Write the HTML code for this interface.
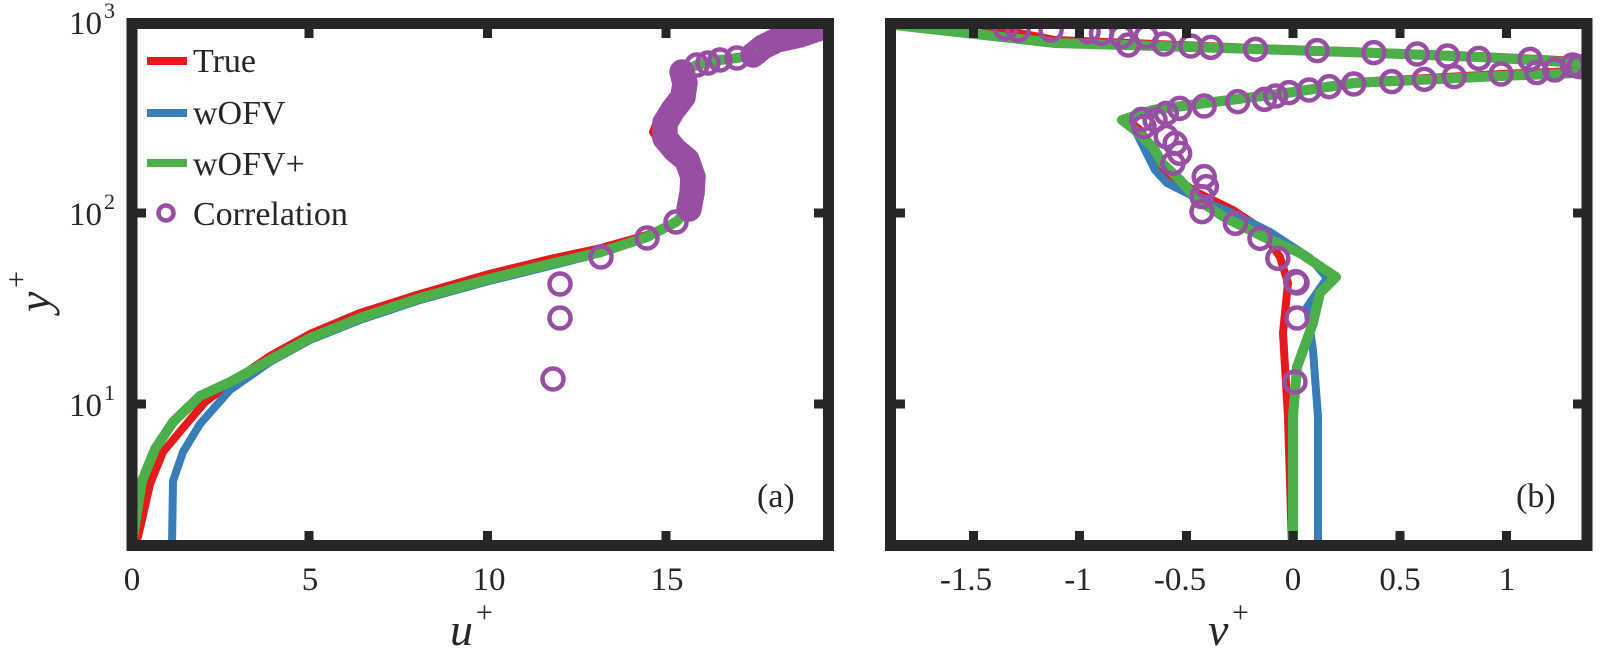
<!DOCTYPE html>
<html><head><meta charset="utf-8"><style>
html,body{margin:0;padding:0;background:#fff;}
svg{display:block;}
svg text{font-family:"Liberation Serif","DejaVu Serif",serif;fill:#262626;}
</style></head><body>
<svg id="s" width="1600" height="652" viewBox="0 0 1600 652" xmlns="http://www.w3.org/2000/svg" font-family="'Liberation Serif','DejaVu Serif',serif">
<defs>
<clipPath id="ca"><rect x="137" y="29" width="686" height="511"/></clipPath>
<clipPath id="cb"><rect x="896" y="29" width="686" height="511"/></clipPath>
</defs>
<g clip-path="url(#ca)" fill="none" stroke-linejoin="round" stroke-linecap="round">
<polyline stroke="#e41a1c" stroke-width="8" points="138,537 150,484 163,452 183,428 205,402 235,380 270,356 310,334 360,313 420,294 489,274 550,259 601,248 647,235 676,222 689,209 690,190 685,165 665,150 653,132 660,115 675,100 683,88 680,72 697,65 720,60 753,55 777,40 826,26"/>
<polyline stroke="#377eb8" stroke-width="8" points="172,545 173,481 183,452 200,424 230,390 270,362 310,340 360,320 420,300 489,281 550,266 601,253 647,238 676,222 689,209 692,193 693,177 687,160 675,150 665,138 665,123 673,110 683,97 685,83 680,72 697,65 720,60 737,58 753,55 763,47 777,40 800,35 826,26"/>
<polyline stroke="#4daf4a" stroke-width="10" points="133,537 142,481 155,449 173,422 200,396 230,382 270,360 310,338 360,318 420,298 489,279 550,264 601,252 647,237 676,222 689,209 692,193 693,177 687,160 675,150 665,138 665,123 673,110 683,97 685,83 680,72 697,65 720,60 737,58 753,55 763,47 777,40 800,35 826,26"/>
<g id="ma" stroke="#984ea3" stroke-width="4.5"></g>
</g>
<g clip-path="url(#cb)" fill="none" stroke-linejoin="round" stroke-linecap="round">
<polyline stroke="#e41a1c" stroke-width="8" points="943,18 1055,40 1255,48 1376,52 1479,56 1600,62 1600,70 1501,74 1354,82 1287,92 1206,102 1153,109 1125,118 1140,130 1153,150 1162,170 1198,193 1233,210 1260,228 1280,257 1288,283 1283,333 1288,417 1292,548"/>
<polyline stroke="#377eb8" stroke-width="8" points="885,24 1055,43 1255,49 1376,53 1479,57 1600,64 1600,72 1501,76 1354,83 1287,93 1206,103 1153,110 1122,120 1135,130 1145,150 1155,170 1167,183 1185,192 1200,200 1230,212 1270,232 1310,258 1327,278 1307,307 1313,350 1318,417 1318,548"/>
<polyline stroke="#4daf4a" stroke-width="10" points="885,24 1055,43 1255,49 1376,53 1479,57 1600,64 1600,72 1501,76 1354,83 1287,93 1206,103 1153,110 1122,120 1135,130 1153,147 1162,163 1180,180 1198,200 1224,217 1264,237 1300,253 1336,277 1320,293 1313,323 1297,367 1293,417 1293,548"/>
<g id="mb" stroke="#984ea3" stroke-width="4.5"></g>
</g>
<g fill="none" stroke="#262626" stroke-width="11">
<rect x="132" y="23.5" width="696.5" height="522"/>
<rect x="890.5" y="23.5" width="696.5" height="522"/>
</g>
<g fill="#262626">
<rect x="304.5" y="29" width="9" height="9"/><rect x="483" y="29" width="9" height="9"/><rect x="661.5" y="29" width="9" height="9"/>
<rect x="304.5" y="531" width="9" height="9"/><rect x="483" y="531" width="9" height="9"/><rect x="661.5" y="531" width="9" height="9"/>
<rect x="137" y="208.5" width="9" height="9"/><rect x="137" y="399.5" width="9" height="9"/>
<rect x="814" y="208.5" width="9" height="9"/><rect x="814" y="399.5" width="9" height="9"/>
<rect x="969" y="29" width="9" height="9"/><rect x="1075" y="29" width="9" height="9"/><rect x="1182" y="29" width="9" height="9"/><rect x="1288.5" y="29" width="9" height="9"/><rect x="1395.5" y="29" width="9" height="9"/><rect x="1502" y="29" width="9" height="9"/>
<rect x="969" y="531" width="9" height="9"/><rect x="1075" y="531" width="9" height="9"/><rect x="1182" y="531" width="9" height="9"/><rect x="1288.5" y="531" width="9" height="9"/><rect x="1395.5" y="531" width="9" height="9"/><rect x="1502" y="531" width="9" height="9"/>
<rect x="896" y="208.5" width="9" height="9"/><rect x="896" y="399.5" width="9" height="9"/>
<rect x="1573" y="208.5" width="9" height="9"/><rect x="1573" y="399.5" width="9" height="9"/>
</g>
<g stroke-width="8">
<line x1="147" y1="61" x2="187" y2="61" stroke="#e41a1c"/>
<line x1="147" y1="113" x2="187" y2="113" stroke="#377eb8"/>
<line x1="147" y1="163" x2="187" y2="163" stroke="#4daf4a"/>
</g>
<circle cx="166" cy="213" r="7.5" fill="none" stroke="#984ea3" stroke-width="4.5"/>
<g font-size="34">
<text x="193" y="72">True</text>
<text x="193" y="124">wOFV</text>
<text x="193" y="175">wOFV+</text>
<text x="193" y="225">Correlation</text>
<text x="757" y="507">(a)</text>
<text x="1516" y="507">(b)</text>
</g>
<g font-size="33" text-anchor="end">
<text x="102" y="34">10</text><text x="104" y="18" font-size="22" text-anchor="start">3</text>
<text x="102" y="225">10</text><text x="104" y="209" font-size="22" text-anchor="start">2</text>
<text x="102" y="416">10</text><text x="104" y="400" font-size="22" text-anchor="start">1</text>
</g>
<g font-size="33" text-anchor="middle">
<text x="132" y="590">0</text><text x="310" y="590">5</text><text x="489" y="590">10</text><text x="667" y="590">15</text>
<text x="966" y="590">-1.5</text><text x="1078" y="590">-1</text><text x="1180" y="590">-0.5</text><text x="1293" y="590">0</text><text x="1400" y="590">0.5</text><text x="1507" y="590">1</text>
</g>
<text x="450" y="645" font-size="46" font-style="italic">u</text><text x="476" y="622" font-size="30">+</text>
<text x="1208" y="645" font-size="46" font-style="italic">v</text><text x="1232" y="622" font-size="30">+</text>
<g transform="translate(50,312) rotate(-90)"><text x="0" y="0" font-size="46" font-style="italic">y</text><text x="24" y="-24" font-size="30">+</text></g>
</svg>
<script>
(function(){
var NS="http://www.w3.org/2000/svg";
function c(g,x,y){var e=document.createElementNS(NS,"circle");e.setAttribute("cx",x);e.setAttribute("cy",y);e.setAttribute("r","10.5");g.appendChild(e);}
function dense(g,pts,step){for(var i=0;i<pts.length-1;i++){var a=pts[i],b=pts[i+1];var d=Math.hypot(b[0]-a[0],b[1]-a[1]);var n=Math.max(1,Math.round(d/step));for(var k=0;k<n;k++){var t=k/n;c(g,a[0]+(b[0]-a[0])*t,a[1]+(b[1]-a[1])*t);}}c(g,pts[pts.length-1][0],pts[pts.length-1][1]);}
var ga=document.getElementById("ma");
[[553,379],[560,318],[560,284],[601,257],[647,238],[676,222]].forEach(function(p){c(ga,p[0],p[1]);});
dense(ga,[[689,209],[692,193],[693,177],[687,160],[675,150],[665,138],[665,123],[673,110],[683,97],[685,83],[682,72]],4);
[[697,65],[708,63],[720,60],[737,58]].forEach(function(p){c(ga,p[0],p[1]);});
dense(ga,[[753,55],[763,47],[777,40],[800,35],[826,26]],5);
var gb=document.getElementById("mb");
var raw=[[270,25],[298,30],[372,30],[455,35],[485,40],[530,50],[545,75],[585,50],[625,72],[685,78],[730,82],[830,88],[968,92],[1095,98],[1192,102],[1260,108],[1330,115],[1445,118],[1540,135],[1555,140],[1380,162],[1460,158],[1500,150],[1275,170],[1208,178],[1135,185],[1050,192],[995,200],[950,210],[905,218],[875,228],[850,238],[790,245],[715,258],[660,265],[630,280],[575,298],[605,300],[580,320],[630,350],[650,370],[660,400],[645,430],[715,470],[720,500],[710,530],[710,575],[785,610],[840,655],[880,715],[920,785]];
raw.forEach(function(p){c(gb,885+p[0]/2.24,20+p[1]/3);});
[[1297,283],[1297,318],[1295,382]].forEach(function(p){c(gb,p[0],p[1]);});
})();
</script>
</body></html>
